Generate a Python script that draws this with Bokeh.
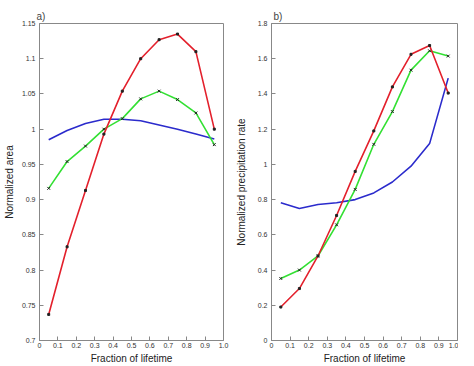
from bokeh.plotting import figure
from bokeh.layouts import row
from bokeh.models import FixedTicker, Range1d
from bokeh.embed import file_html
from bokeh.resources import INLINE

x = [0.05, 0.15, 0.25, 0.35, 0.45, 0.55, 0.65, 0.75, 0.85, 0.95]

area_red = [0.737, 0.833, 0.913, 0.993, 1.054, 1.100, 1.127, 1.135, 1.110, 1.000]
area_green = [0.916, 0.954, 0.976, 1.000, 1.015, 1.043, 1.054, 1.042, 1.023, 0.978]
area_blue = [0.985, 0.998, 1.008, 1.014, 1.014, 1.012, 1.006, 1.000, 0.993, 0.986]

prec_red = [0.19, 0.295, 0.48, 0.71, 0.96, 1.19, 1.44, 1.625, 1.675, 1.405]
prec_green = [0.352, 0.40, 0.48, 0.657, 0.858, 1.114, 1.30, 1.535, 1.645, 1.615]
prec_blue = [0.782, 0.75, 0.772, 0.782, 0.80, 0.838, 0.90, 0.99, 1.118, 1.49]

x_ticks = [0, 0.1, 0.2, 0.3, 0.4, 0.5, 0.6, 0.7, 0.8, 0.9, 1.0]
x_tick_labels = ["0", "0.1", "0.2", "0.3", "0.4", "0.5", "0.6", "0.7", "0.8", "0.9", "1.0"]
a_ticks = [0.7, 0.75, 0.8, 0.85, 0.9, 0.95, 1.0, 1.05, 1.1, 1.15]
a_tick_labels = ["0.7", "0.75", "0.8", "0.85", "0.9", "0.95", "1", "1.05", "1.1", "1.15"]
b_ticks = [0, 0.2, 0.4, 0.6, 0.8, 1.0, 1.2, 1.4, 1.6, 1.8]
b_tick_labels = ["0", "0.2", "0.4", "0.6", "0.8", "1", "1.2", "1.4", "1.6", "1.8"]

RED = "#e3202c"
GREEN = "#33e033"
BLUE = "#2b2bcc"
FONT = "Liberation Sans"


def make(title, ylabel, yr, yt, ytl, w, left, right, ystand):
    p = figure(width=w, height=366, output_backend="svg", toolbar_location=None,
               x_range=Range1d(0, 1), y_range=Range1d(*yr),
               min_border_left=left, min_border_right=right,
               min_border_top=23, min_border_bottom=20)
    p.title.text = title
    p.title.text_font = FONT
    p.title.text_font_size = "10px"
    p.title.text_font_style = "normal"
    p.title.align = "left"
    p.title.offset = -3 if title == "a)" else 2
    p.title.standoff = 3
    p.grid.visible = False
    p.outline_line_color = "#888888"
    p.outline_line_width = 1
    p.background_fill_color = "white"
    p.border_fill_color = "white"
    for ax in (p.xaxis[0], p.yaxis[0]):
        ax.axis_line_color = "#888888"
        ax.major_tick_line_color = "#888888"
        ax.minor_tick_line_color = None
        ax.major_tick_in = 4
        ax.major_tick_out = 0
        ax.major_label_text_font = FONT
        ax.major_label_text_font_size = "7px"
        ax.major_label_text_color = "#333333"
        ax.axis_label_text_font = FONT
        ax.axis_label_text_font_size = "10px"
        ax.axis_label_text_font_style = "normal"
        ax.axis_label_text_color = "#222222"
        ax.major_label_standoff = 4
    p.xaxis.major_label_standoff = 2
    p.xaxis.ticker = FixedTicker(ticks=x_ticks)
    p.xaxis.major_label_overrides = {t: l for t, l in zip(x_ticks, x_tick_labels)}
    p.yaxis.ticker = FixedTicker(ticks=yt)
    p.yaxis.major_label_overrides = {t: l for t, l in zip(yt, ytl)}
    p.xaxis.axis_label = "Fraction of lifetime"
    p.xaxis.axis_label_standoff = 2
    p.yaxis.axis_label = ylabel
    p.yaxis.axis_label_standoff = ystand
    return p


pa = make("a)", "Normalized area", (0.7, 1.15), a_ticks, a_tick_labels, 232, 31, 9, 4)
pa.line(x, area_blue, line_color=BLUE, line_width=1.6)
pa.line(x, area_green, line_color=GREEN, line_width=1.6)
pa.scatter(x, area_green, marker="x", size=4, line_color="#222222", line_width=1)
pa.line(x, area_red, line_color=RED, line_width=1.6)
pa.scatter(x, area_red, marker="square", size=2, fill_color="#222222", line_color="#222222")

pb = make("b)", "Normalized precipitation rate", (0, 1.8), b_ticks, b_tick_labels, 226, 33, 1, 8)
pb.line(x, prec_blue, line_color=BLUE, line_width=1.6)
pb.line(x, prec_green, line_color=GREEN, line_width=1.6)
pb.scatter(x, prec_green, marker="x", size=4, line_color="#222222", line_width=1)
pb.line(x, prec_red, line_color=RED, line_width=1.6)
pb.scatter(x, prec_red, marker="square", size=2, fill_color="#222222", line_color="#222222")

layout = row(pa, pb)
open("out.html", "w").write(file_html(layout, INLINE))
